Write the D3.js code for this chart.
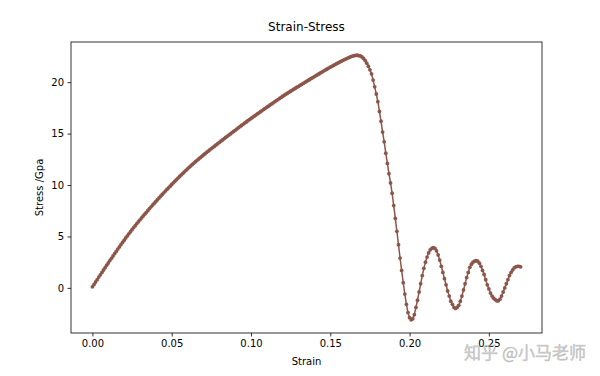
<!DOCTYPE html>
<html>
<head>
<meta charset="utf-8">
<script src="https://cdn.jsdelivr.net/npm/d3@7/dist/d3.min.js"></script>
<style>
  html, body { margin: 0; padding: 0; background: #fff; }
  svg { display: block; }
  text { font-family: "DejaVu Sans", sans-serif; }
</style>
</head>
<body>
<svg id="chart" width="600" height="376"></svg>
<script>
// ---- Data ----
const strain = [
0.000,0.001,0.002,0.003,0.004,0.005,0.006,0.007,0.008,0.009,
0.010,0.011,0.012,0.013,0.014,0.015,0.016,0.017,0.018,0.019,
0.020,0.021,0.022,0.023,0.024,0.025,0.026,0.027,0.028,0.029,
0.030,0.031,0.032,0.033,0.034,0.035,0.036,0.037,0.038,0.039,
0.040,0.041,0.042,0.043,0.044,0.045,0.046,0.047,0.048,0.049,
0.050,0.051,0.052,0.053,0.054,0.055,0.056,0.057,0.058,0.059,
0.060,0.061,0.062,0.063,0.064,0.065,0.066,0.067,0.068,0.069,
0.070,0.071,0.072,0.073,0.074,0.075,0.076,0.077,0.078,0.079,
0.080,0.081,0.082,0.083,0.084,0.085,0.086,0.087,0.088,0.089,
0.090,0.091,0.092,0.093,0.094,0.095,0.096,0.097,0.098,0.099,
0.100,0.101,0.102,0.103,0.104,0.105,0.106,0.107,0.108,0.109,
0.110,0.111,0.112,0.113,0.114,0.115,0.116,0.117,0.118,0.119,
0.120,0.121,0.122,0.123,0.124,0.125,0.126,0.127,0.128,0.129,
0.130,0.131,0.132,0.133,0.134,0.135,0.136,0.137,0.138,0.139,
0.140,0.141,0.142,0.143,0.144,0.145,0.146,0.147,0.148,0.149,
0.150,0.151,0.152,0.153,0.154,0.155,0.156,0.157,0.158,0.159,
0.160,0.161,0.162,0.163,0.164,0.165,0.166,0.167,0.168,0.169,
0.170,0.171,0.172,0.173,0.174,0.175,0.176,0.177,0.178,0.179,
0.180,0.181,0.182,0.183,0.184,0.185,0.186,0.187,0.188,0.189,
0.190,0.191,0.192,0.193,0.194,0.195,0.196,0.197,0.198,0.199,
0.200,0.201,0.202,0.203,0.204,0.205,0.206,0.207,0.208,0.209,
0.210,0.211,0.212,0.213,0.214,0.215,0.216,0.217,0.218,0.219,
0.220,0.221,0.222,0.223,0.224,0.225,0.226,0.227,0.228,0.229,
0.230,0.231,0.232,0.233,0.234,0.235,0.236,0.237,0.238,0.239,
0.240,0.241,0.242,0.243,0.244,0.245,0.246,0.247,0.248,0.249,
0.250,0.251,0.252,0.253,0.254,0.255,0.256,0.257,0.258,0.259,
0.260,0.261,0.262,0.263,0.264,0.265,0.266,0.267,0.268,0.269,
0.270
];
const stress = [
0.10,0.33,0.57,0.80,1.05,1.27,1.50,1.74,1.96,2.20,
2.42,2.66,2.87,3.10,3.33,3.54,3.77,3.98,4.20,4.42,
4.63,4.85,5.05,5.26,5.46,5.66,5.86,6.05,6.25,6.43,
6.62,6.80,6.99,7.17,7.35,7.53,7.71,7.88,8.06,8.23,
8.40,8.57,8.74,8.91,9.08,9.24,9.41,9.57,9.73,9.89,
10.05,10.21,10.37,10.52,10.68,10.83,10.98,11.13,11.28,11.43,
11.58,11.72,11.86,12.00,12.13,12.27,12.40,12.53,12.66,12.79,
12.92,13.04,13.17,13.29,13.42,13.54,13.66,13.78,13.90,14.02,
14.14,14.26,14.38,14.50,14.62,14.74,14.86,14.97,15.09,15.21,
15.32,15.44,15.56,15.67,15.79,15.90,16.02,16.13,16.25,16.36,
16.47,16.58,16.69,16.80,16.91,17.02,17.13,17.24,17.35,17.46,
17.57,17.67,17.78,17.89,17.99,18.10,18.21,18.31,18.42,18.52,
18.63,18.73,18.83,18.93,19.03,19.12,19.22,19.32,19.41,19.51,
19.60,19.70,19.79,19.89,19.98,20.08,20.17,20.26,20.36,20.45,
20.54,20.64,20.73,20.82,20.92,21.01,21.10,21.19,21.28,21.37,
21.46,21.54,21.63,21.71,21.80,21.88,21.96,22.04,22.12,22.20,
22.27,22.34,22.41,22.48,22.54,22.58,22.60,22.62,22.58,22.55,
22.45,22.30,22.10,21.85,21.55,21.20,20.80,20.20,19.55,18.85,
18.10,17.15,16.20,15.15,14.20,13.10,12.10,11.10,10.20,9.20,
8.00,6.75,5.50,4.20,2.90,1.70,0.50,-0.60,-1.60,-2.40,
-2.90,-3.10,-3.00,-2.60,-1.90,-1.20,-0.40,0.40,1.20,1.90,
2.50,3.00,3.40,3.70,3.85,3.90,3.85,3.60,3.20,2.70,
2.10,1.50,0.90,0.30,-0.30,-0.80,-1.30,-1.60,-1.90,-2.00,
-1.90,-1.70,-1.30,-0.80,-0.20,0.40,1.00,1.50,2.00,2.30,
2.50,2.60,2.65,2.60,2.40,2.10,1.70,1.30,0.80,0.30,
-0.10,-0.50,-0.80,-1.00,-1.15,-1.25,-1.25,-1.10,-0.80,-0.40,
0.00,0.40,0.80,1.20,1.50,1.75,1.95,2.05,2.10,2.10,
2.05
];
const xTicks = [0.00, 0.05, 0.10, 0.15, 0.20, 0.25];
const yTicks = [0, 5, 10, 15, 20];
const titleText = "Strain-Stress";
const xLabel = "Strain";
const yLabel = "Stress /Gpa";
const watermark = "知乎 @小马老师";

// ---- Layout ----
const W = 600, H = 376;
const plot = { left: 71, right: 542, top: 42, bottom: 333 };
const color = "#8c564b";

const svg = d3.select("#chart");
const data = strain.map((s, i) => ({ x: s, y: stress[i] }));

const xExt = d3.extent(strain), yExt = d3.extent(stress);
const xPad = (xExt[1] - xExt[0]) * 0.05, yPad = (yExt[1] - yExt[0]) * 0.05;

const x = d3.scaleLinear().domain([xExt[0] - xPad, xExt[1] + xPad]).range([plot.left, plot.right]);
const y = d3.scaleLinear().domain([yExt[0] - yPad, yExt[1] + yPad]).range([plot.bottom, plot.top]);

// Axes
const xAxis = d3.axisBottom(x).tickValues(xTicks).tickFormat(d3.format(".2f")).tickSize(3.5).tickPadding(3.5).tickSizeOuter(0);
const yAxis = d3.axisLeft(y).tickValues(yTicks).tickFormat(d3.format("d")).tickSize(3.5).tickPadding(3.5).tickSizeOuter(0);

const gx = svg.append("g").attr("transform", `translate(0,${plot.bottom})`).call(xAxis);
const gy = svg.append("g").attr("transform", `translate(${plot.left},0)`).call(yAxis);
[gx, gy].forEach(g => {
  g.select(".domain").remove();
  g.selectAll(".tick line").attr("stroke", "#000").attr("stroke-width", 0.8);
  g.selectAll(".tick text").attr("fill", "#000").style("font-size", "10px").style("font-family", "DejaVu Sans, sans-serif");
});

// Line + markers
const clip = svg.append("defs").append("clipPath").attr("id", "clip")
  .append("rect").attr("x", plot.left).attr("y", plot.top)
  .attr("width", plot.right - plot.left).attr("height", plot.bottom - plot.top);

const line = d3.line().x(d => x(d.x)).y(d => y(d.y));
const gData = svg.append("g").attr("clip-path", "url(#clip)");
gData.append("path").datum(data).attr("d", line)
  .attr("fill", "none").attr("stroke", color).attr("stroke-width", 1.5)
  .attr("stroke-linejoin", "round");
gData.selectAll("circle").data(data).join("circle")
  .attr("cx", d => x(d.x)).attr("cy", d => y(d.y)).attr("r", 1.9)
  .attr("fill", color);

// Frame
svg.append("rect").attr("x", plot.left).attr("y", plot.top)
  .attr("width", plot.right - plot.left).attr("height", plot.bottom - plot.top)
  .attr("fill", "none").attr("stroke", "#000").attr("stroke-width", 0.8);

// Title & labels
svg.append("text").attr("x", (plot.left + plot.right) / 2).attr("y", 31)
  .attr("text-anchor", "middle").style("font-size", "12px").attr("fill", "#000").text(titleText);
svg.append("text").attr("x", (plot.left + plot.right) / 2).attr("y", 365)
  .attr("text-anchor", "middle").style("font-size", "10px").attr("fill", "#000").text(xLabel);
svg.append("text").attr("transform", `translate(43,${(plot.top + plot.bottom) / 2}) rotate(-90)`)
  .attr("text-anchor", "middle").style("font-size", "10px").attr("fill", "#000").text(yLabel);

// Watermark
svg.append("text").attr("x", 586).attr("y", 359).attr("text-anchor", "end")
  .style("font-family", "'Noto Sans CJK SC', sans-serif").style("font-size", "17px")
  .attr("fill", "rgba(170,170,170,0.55)").attr("stroke", "rgba(120,120,120,0.35)").attr("stroke-width", 0.6)
  .text(watermark);
</script>
</body>
</html>
